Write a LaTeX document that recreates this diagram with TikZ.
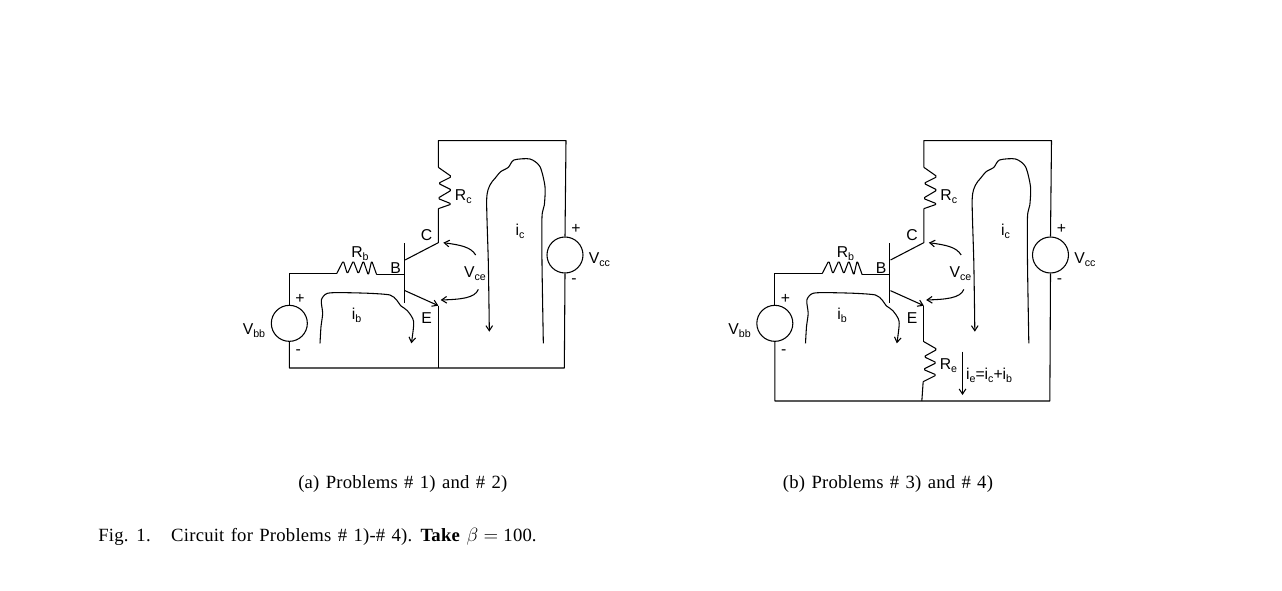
\documentclass[tikz,border=0pt]{standalone}
\usepackage{fontspec}
\setmainfont{Liberation Serif}[WordSpace=1.3,LetterSpace=1.2]
\newfontfamily\labelfont{Liberation Sans}
\usetikzlibrary{arrows.meta}
\newcommand{\lsub}[1]{\raisebox{-0.35ex}{\fontsize{8}{9}\selectfont #1}}
\tikzset{
  wire/.style={line width=0.8pt,black,line join=round},
  zig/.style={wire,rounded corners=1.2pt},
  sketch/.style={line width=0.8pt,black,smooth,tension=0.45},
  tip/.style={-{Straight Barb[length=3.8pt,width=5pt]}},
  source/.style={circle,draw,line width=0.8pt,minimum size=27pt,inner sep=0pt},
  lab/.style={font=\labelfont\fontsize{11.8}{13}\selectfont,inner sep=0pt},
  captxt/.style={font=\fontsize{14}{16}\selectfont,inner sep=0pt,anchor=west},
}
\newcommand{\circuit}[3]{%
\begin{scope}[shift={#2}]
  \coordinate (#1tl) at (625,32);
  \coordinate (#1tr) at (1008,32);
  \coordinate (#1br) at (1003,#3);
  \coordinate (#1bl) at (178,#3);
  \coordinate (#1wl) at (178,431);
  \coordinate (#1rbl) at (320,431);
  \coordinate (#1rbr) at (440,434);
  \coordinate (#1base) at (523,434);
  \coordinate (#1bart) at (523,340);
  \coordinate (#1barb) at (523,520);
  \coordinate (#1cj) at (525,390);
  \coordinate (#1c) at (625,338);
  \coordinate (#1ej) at (525,482);
  \coordinate (#1e) at (625,527);
  \coordinate (#1rct) at (625,112);
  \coordinate (#1rcb) at (625,236);
  \node[source] (#1vcc) at (1005,375) {};
  \node[source] (#1vbb) at (178,580) {};
  \draw[wire] (#1vbb.north) -- (#1wl) -- (#1rbl);
  \draw[wire] (#1vbb.south) -- (#1bl) -- (#1br) -- (#1vcc.south);
  \draw[wire] (#1vcc.north) -- (#1tr) -- (#1tl) -- (#1rct);
  \draw[zig] (#1rbl) -- (340,392) -- (352,432) -- (370,392) -- (385,432) -- (400,392) -- (415,436) -- (425,392) -- (#1rbr);
  \draw[wire] (#1rbr) -- (#1base);
  \draw[wire] (#1bart) -- (#1barb);
  \draw[wire] (#1cj) -- (#1c) -- (#1rcb);
  \draw[wire,tip] (#1ej) -- (#1e);
  \draw[zig] (#1rct) -- (665,140) -- (625,160) -- (665,180) -- (623,205) -- (665,222) -- (#1rcb);
  \draw[sketch,tip] plot coordinates {(270,640) (273,590) (278,550) (274,510) (292,490) (340,488) (420,490) (480,495) (500,510) (512,527) (532,542) (551,575) (544,640)};
  \draw[sketch,tip] plot coordinates {(940,640) (936,400) (936,260) (943,225) (945,170) (930,110) (900,87) (852,90) (835,112) (812,125) (795,145) (780,165) (770,210) (775,400) (778,605)};
  \coordinate (#1vta) at (737,375);
  \coordinate (#1vtb) at (745,478);
  \coordinate (#1cta) at (640,338);
  \coordinate (#1ctb) at (632,510);
  \draw[wire,tip] (#1vta) .. controls (722,350) and (690,345) .. (#1cta);
  \draw[wire,tip] (#1vtb) .. controls (735,505) and (690,508) .. (#1ctb);
  \node[lab] (#1lrc) at (700,200) {R\lsub{c}};
  \node[lab] (#1lC) at (590,315) {C};
  \node[lab] (#1lrb) at (390,370) {R\lsub{b}};
  \node[lab] (#1lB) at (497,415) {B};
  \node[lab] (#1lvce) at (735,432) {V\lsub{ce}};
  \node[lab] (#1lic) at (870,303) {i\lsub{c}};
  \node[lab] (#1lib) at (380,555) {i\lsub{b}};
  \node[lab] (#1lE) at (590,565) {E};
  \node[lab] (#1pcc) at (1038,297) {+};
  \node[lab] (#1mcc) at (1032,452) {-};
  \node[lab] (#1lvcc) at (1108,389) {V\lsub{cc}};
  \node[lab] (#1lvbb) at (72,602) {V\lsub{bb}};
  \node[lab] (#1pbb) at (210,507) {+};
  \node[lab] (#1mbb) at (205,665) {-};
\end{scope}}
\begin{document}
\begin{tikzpicture}[x=0.25pt,y=-0.25pt]
  \useasboundingbox (0,0) rectangle (3846,1770);
  \fill[white] (0,0) rectangle (3846,1770);
  \circuit{a}{(690,390)}{714}
  \circuit{b}{(2146.5,390)}{813}
  \draw[wire] (ae) -- (1315,1104);
  \begin{scope}[shift={(2146.5,390)}]
    \coordinate (bret) at (625,635);
    \coordinate (breb) at (623,755);
    \coordinate (bej) at (619,813);
    \coordinate (bia) at (741,665);
    \coordinate (bib) at (741,795);
    \draw[wire] (be) -- (bret);
    \draw[zig] (bret) -- (665,658) -- (625,680) -- (663,698) -- (623,718) -- (663,735) -- (breb);
    \draw[wire] (breb) -- (bej);
    \draw[wire,tip] (bia) -- (bib);
    \node[lab] (blre) at (699,708) {R\lsub{e}};
    \node[lab,anchor=west] (blie) at (751,735) {i\lsub{e}=i\lsub{c}+i\lsub{b}};
  \end{scope}
  \node[captxt] (capa) at (894,1452) {(a) Problems \# 1) and \# 2)};
  \node[captxt] (capb) at (2348,1452) {(b) Problems \# 3) and \# 4)};
  \node[captxt] (fig) at (294,1610) {Fig. 1.\hspace{1.1em}Circuit for Problems \# 1)-\# 4). \textbf{Take} $\beta=\hbox{100}$.};
\end{tikzpicture}
\end{document}
